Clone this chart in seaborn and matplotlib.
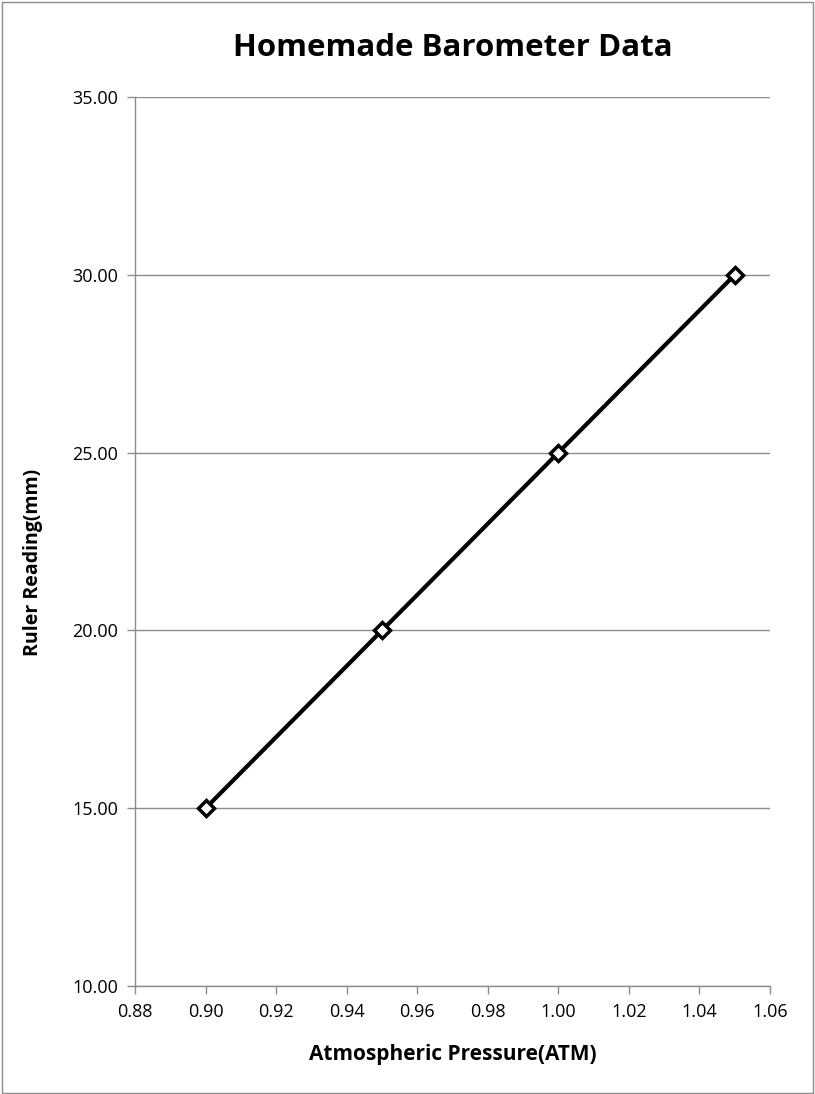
import pandas as pd
import seaborn as sns
import matplotlib.pyplot as plt
from matplotlib.patches import Rectangle

pressure = [0.90, 0.95, 1.00, 1.05]
reading = [15.0, 20.0, 25.0, 30.0]

df = pd.DataFrame({'pressure': pressure, 'reading': reading})

sns.set_style('white')
plt.rcParams['font.family'] = ['Open Sans', 'DejaVu Sans']
plt.rcParams['text.color'] = 'black'
plt.rcParams['axes.labelcolor'] = 'black'

fig = plt.figure(figsize=(8.15, 10.94), dpi=100)
ax = fig.add_axes([0.1656, 0.0987, 0.7792, 0.8126])

sns.lineplot(data=df, x='pressure', y='reading', ax=ax, color='black', linewidth=3,
             marker='D', markersize=8, markerfacecolor='white', markeredgecolor='black',
             markeredgewidth=2.5)

ax.set_xlim(0.88, 1.06)
ax.set_ylim(10, 35)
ax.set_xticks([0.88 + 0.02 * i for i in range(10)])
ax.set_yticks([10, 15, 20, 25, 30, 35])
ax.xaxis.set_major_formatter(plt.FormatStrFormatter('%.2f'))
ax.yaxis.set_major_formatter(plt.FormatStrFormatter('%.2f'))
ax.grid(axis='y', color='#8c8c8c', linewidth=1)
ax.set_axisbelow(True)

for side in ['top', 'right']:
    ax.spines[side].set_visible(False)
for side in ['left', 'bottom']:
    ax.spines[side].set_color('#8c8c8c')
    ax.spines[side].set_linewidth(1)
ax.tick_params(axis='both', direction='out', length=6, width=1, color='#8c8c8c',
               labelsize=13, labelcolor='black', pad=6, bottom=True, left=True)

ax.set_xlabel('Atmospheric Pressure(ATM)', fontsize=15, fontweight='bold')
ax.set_ylabel('Ruler Reading(mm)', fontsize=14, fontweight='bold')
ax.xaxis.set_label_coords(0.5, -0.065)
ax.yaxis.set_label_coords(-0.145, 0.477)
fig.text(0.555, 0.956, 'Homemade Barometer Data', fontsize=22.5, fontweight='bold',
         ha='center', va='center')

fig.patches.append(Rectangle((0.002, 0.001), 0.995, 0.997, transform=fig.transFigure,
                             fill=False, edgecolor='#8c8c8c', linewidth=1))

fig.savefig('out.png', dpi=100)
